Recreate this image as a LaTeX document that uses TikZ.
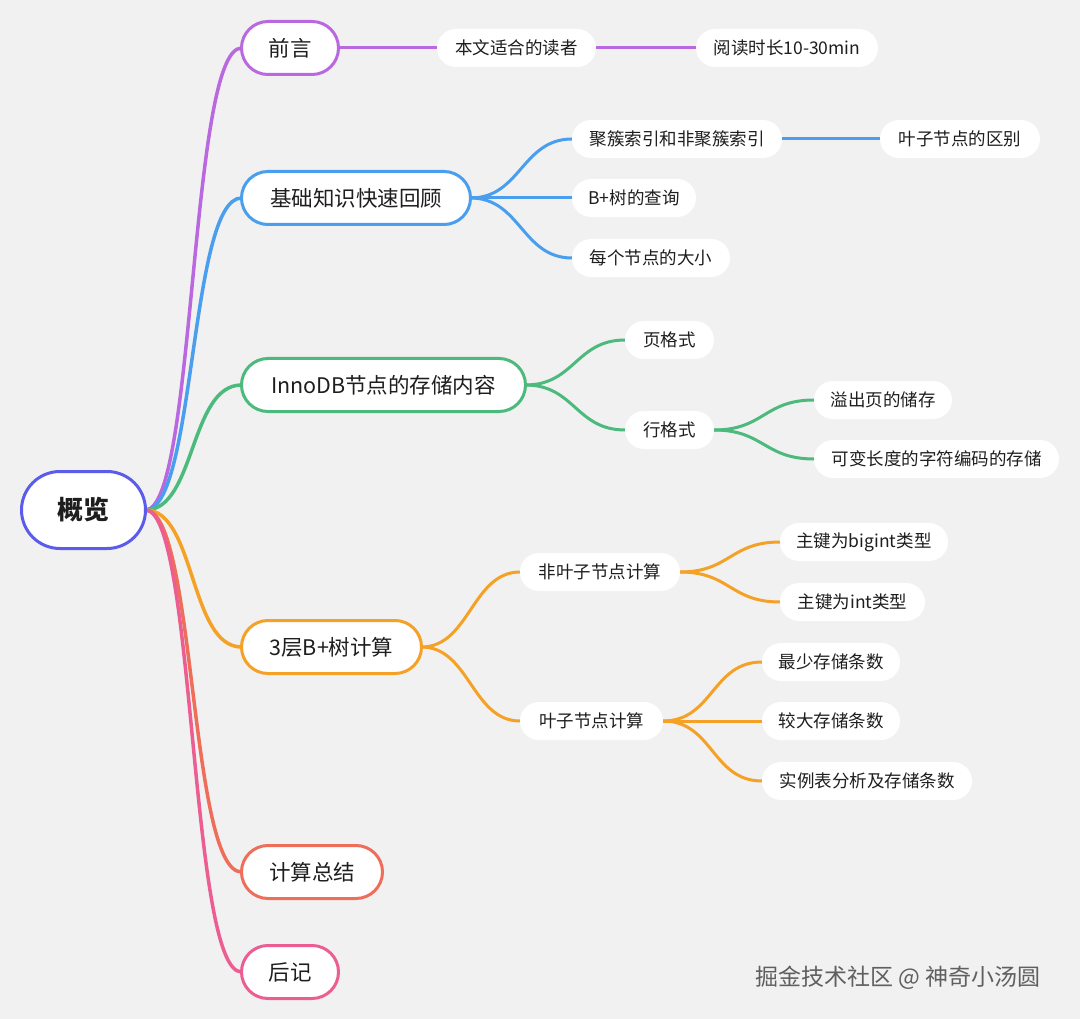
\documentclass[tikz,border=0pt]{standalone}
\usepackage{fontspec}
\setmainfont{Noto Sans CJK SC}
\usetikzlibrary{shapes.misc}
\pgfdeclarelayer{bglayer}
\pgfdeclarelayer{links}
\pgfsetlayers{bglayer,links,main}
\definecolor{bg}{RGB}{241,241,241}
\definecolor{txt}{RGB}{30,30,30}
\definecolor{rootc}{RGB}{92,92,235}
\definecolor{cpur}{RGB}{186,104,224}
\definecolor{cblu}{RGB}{74,158,238}
\definecolor{cgrn}{RGB}{76,185,125}
\definecolor{cora}{RGB}{245,161,37}
\definecolor{ccor}{RGB}{238,110,90}
\definecolor{cpnk}{RGB}{236,94,146}
\definecolor{wm}{RGB}{95,95,95}
\begin{document}
\begin{tikzpicture}[x=1pt,y=-1pt,
  every node/.style={inner sep=0pt, outer sep=0pt},
  rootn/.style={rounded rectangle, draw=rootc, line width=3pt, fill=white, minimum width=124pt, minimum height=77pt, font=\fontsize{26}{30}\selectfont\bfseries, text=txt},
  topic/.style={rounded rectangle, draw=#1, line width=3pt, fill=white, minimum height=53pt, font=\fontsize{21.5}{25}\selectfont, text=txt, anchor=west},
  leaf/.style={rounded rectangle, fill=white, minimum height=38pt, font=\fontsize{17.5}{20}\selectfont, text=txt, anchor=west},
  link/.style={draw=#1, line width=3pt, line cap=round},
  rlink/.style={draw=#1, line width=3.5pt, line cap=round},
]
\begin{pgfonlayer}{bglayer}
\path[fill=bg] (0,0) rectangle (1080,1019);
\end{pgfonlayer}

% root
\node[rootn] (root) at (83.5,510) {概览};

% topics
\node[topic=cpur, minimum width=97pt] (qy) at (241.5,48) {前言};
\node[topic=cblu, minimum width=229pt] (jc) at (241.5,198) {基础知识快速回顾};
\node[topic=cgrn, minimum width=284pt] (inno) at (241.5,385) {InnoDB节点的存储内容};
\node[topic=cora, minimum width=180pt] (b3) at (241.5,647) {3层B+树计算};
\node[topic=ccor, minimum width=141pt] (zj) at (241.5,872) {计算总结};
\node[topic=cpnk, minimum width=97pt] (hj) at (241.5,972) {后记};

% leaves
\node[leaf, minimum width=159pt] (bw) at (437,48) {本文适合的读者};
\node[leaf, minimum width=182pt] (yd) at (696,48) {阅读时长10-30min};
\node[leaf, minimum width=210pt] (jc1) at (572,139) {聚簇索引和非聚簇索引};
\node[leaf, minimum width=160pt] (jc1a) at (880,139) {叶子节点的区别};
\node[leaf, minimum width=124pt] (jc2) at (572,198) {B+树的查询};
\node[leaf, minimum width=158pt] (jc3) at (572,258) {每个节点的大小};
\node[leaf, minimum width=89pt] (yg) at (625,340) {页格式};
\node[leaf, minimum width=89pt] (hg) at (625,430) {行格式};
\node[leaf, minimum width=138pt] (yc) at (814,400) {溢出页的储存};
\node[leaf, minimum width=245pt] (kb) at (814,459) {可变长度的字符编码的存储};
\node[leaf, minimum width=160pt] (fy) at (520,572) {非叶子节点计算};
\node[leaf, minimum width=168pt] (big) at (780,542) {主键为bigint类型};
\node[leaf, minimum width=145pt] (int) at (780,602) {主键为int类型};
\node[leaf, minimum width=143pt] (yz) at (520,721) {叶子节点计算};
\node[leaf, minimum width=138pt] (zs) at (762,662) {最少存储条数};
\node[leaf, minimum width=138pt] (jd) at (762,721) {较大存储条数};
\node[leaf, minimum width=210pt] (sl) at (762,781) {实例表分析及存储条数};

\begin{pgfonlayer}{links}
% root connectors
\path[rlink=cpur] (root.east) .. controls +(50,0) and +(-52,0) .. (qy.west);
\path[rlink=cblu] (root.east) .. controls +(50,0) and +(-52,0) .. (jc.west);
\path[rlink=cgrn] (root.east) .. controls +(50,0) and +(-52,0) .. (inno.west);
\path[rlink=cora] (root.east) .. controls +(50,0) and +(-52,0) .. (b3.west);
\path[rlink=ccor] (root.east) .. controls +(50,0) and +(-52,0) .. (zj.west);
\path[rlink=cpnk] (root.east) .. controls +(50,0) and +(-52,0) .. (hj.west);

% level-2 connectors
\path[link=cpur] (qy.east) -- (bw.west);
\path[link=cpur] (bw.east) -- (yd.west);
\path[link=cblu] (jc.east) .. controls +(50,0) and +(-50,0) .. (jc1.west);
\path[link=cblu] (jc.east) -- (jc2.west);
\path[link=cblu] (jc.east) .. controls +(50,0) and +(-50,0) .. (jc3.west);
\path[link=cblu] (jc1.east) -- (jc1a.west);
\path[link=cgrn] (inno.east) .. controls +(49,0) and +(-49,0) .. (yg.west);
\path[link=cgrn] (inno.east) .. controls +(49,0) and +(-49,0) .. (hg.west);
\path[link=cgrn] (hg.east) .. controls +(50,0) and +(-50,0) .. (yc.west);
\path[link=cgrn] (hg.east) .. controls +(50,0) and +(-50,0) .. (kb.west);
\path[link=cora] (b3.east) .. controls +(48,0) and +(-48,0) .. (fy.west);
\path[link=cora] (b3.east) .. controls +(48,0) and +(-48,0) .. (yz.west);
\path[link=cora] (fy.east) .. controls +(50,0) and +(-50,0) .. (big.west);
\path[link=cora] (fy.east) .. controls +(50,0) and +(-50,0) .. (int.west);
\path[link=cora] (yz.east) .. controls +(50,0) and +(-50,0) .. (zs.west);
\path[link=cora] (yz.east) -- (jd.west);
\path[link=cora] (yz.east) .. controls +(50,0) and +(-50,0) .. (sl.west);
\end{pgfonlayer}

% watermark
\node[font=\fontsize{23}{27}\selectfont, text=wm] (wmk) at (898,978) {掘金技术社区 @ 神奇小汤圆};
\end{tikzpicture}
\end{document}
